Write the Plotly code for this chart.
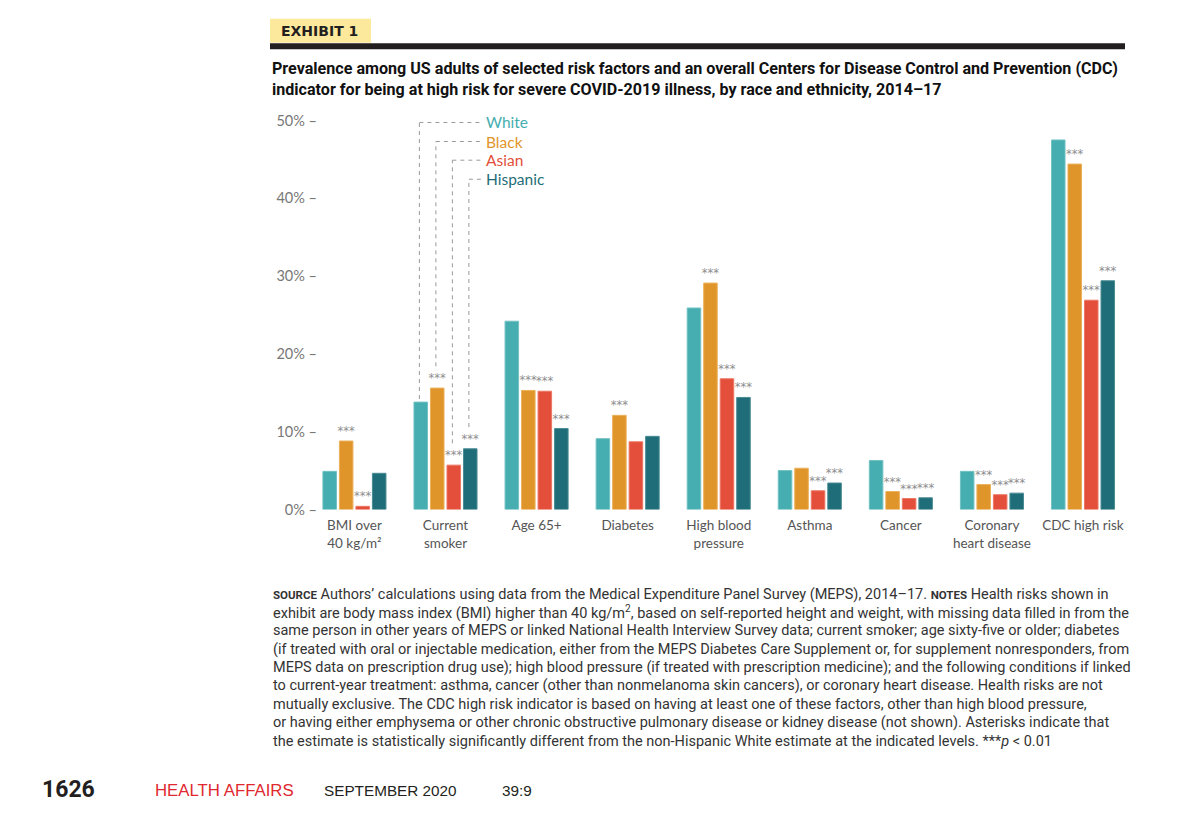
import plotly.graph_objects as go

categories = ["BMI over<br>40 kg/m²", "Current<br>smoker", "Age 65+", "Diabetes",
              "High blood<br>pressure", "Asthma", "Cancer", "Coronary<br>heart disease",
              "CDC high risk"]
series_names = ["White", "Black", "Asian", "Hispanic"]
white = [4.9, 13.8, 24.2, 9.1, 25.9, 5.0, 6.3, 4.9, 47.5]
black = [8.8, 15.6, 15.3, 12.1, 29.1, 5.3, 2.3, 3.2, 44.4]
asian = [0.4, 5.7, 15.2, 8.7, 16.8, 2.4, 1.4, 1.9, 26.9]
hispanic = [4.65, 7.8, 10.4, 9.4, 14.4, 3.4, 1.5, 2.1, 29.4]
white_sig = [0, 0, 0, 0, 0, 0, 0, 0, 0]
black_sig = [1, 1, 1, 1, 1, 0, 1, 1, 1]
asian_sig = [1, 1, 1, 0, 1, 1, 1, 1, 1]
hispanic_sig = [0, 1, 1, 0, 1, 1, 1, 1, 1]
y_ticks = [0, 10, 20, 30, 40, 50]

colors = ["#46adb0", "#e0952a", "#e34f3a", "#1f6d78"]
edge_colors = ["#72c1c3", "#ebb05a", "#ec7663", "#4a8b94"]
values = [white, black, asian, hispanic]
sigs = [white_sig, black_sig, asian_sig, hispanic_sig]

W, H = 1200, 823
# map reference-pixel positions to paper fractions (page offset / scale of the viewer)
OX, OY, SY = 8.0, 15.2, 0.982


def PX(x):
    return (x - OX) / W


def PY(y):
    return 1 - ((y - OY) / SY) / H


x_range = [-0.40, 8.494]

TICK_FONT = "Lato"
TEXT_FONT = "Roboto"

fig = go.Figure()
xs = list(range(len(categories)))
for name, vals, sig, c, ec in zip(series_names, values, sigs, colors, edge_colors):
    has_sig = any(sig)
    fig.add_trace(go.Bar(
        x=xs, y=vals, name=name,
        marker=dict(color=c, line=dict(color=ec, width=1)),
        text=["***" if s else "" for s in sig] if has_sig else None,
        textposition="outside" if has_sig else "none", textangle=0, constraintext="none",
        textfont=dict(size=11.5, color="#8e8e8e", family="DejaVu Sans"),
        cliponaxis=False, showlegend=False, hoverinfo="skip",
    ))

bargap = 0.275
bargroupgap = 0.18

fig.update_layout(
    width=W, height=H,
    margin=dict(l=0, r=0, t=0, b=0),
    paper_bgcolor="white", plot_bgcolor="white",
    barmode="group", bargap=bargap, bargroupgap=bargroupgap,
    xaxis=dict(
        domain=[PX(318), PX(1128)], range=x_range,
        tickvals=xs, ticktext=categories, showgrid=False, zeroline=False,
        showline=False, ticks="", ticklabelstandoff=6,
        tickfont=dict(family=TICK_FONT, size=13.5, color="#555555"),
    ),
    yaxis=dict(
        domain=[PY(509), PY(119)], range=[0, 50],
        tickvals=y_ticks, ticktext=[f"{v}% –" for v in y_ticks],
        showgrid=False, zeroline=False, showline=False, ticks="",
        ticklabelstandoff=0,
        tickfont=dict(family=TICK_FONT, size=14.5, color="#777777"),
    ),
)

# legend with dashed leader lines from "Current smoker" bars
slot = (1 - bargap) / 4
offsets = [-(1 - bargap) / 2 + (i + 0.5) * slot for i in range(4)]
label_levels = [49.75, 47.3, 44.9, 42.45]
smoker_idx = 1
label_x = 1.434
for i, (name, vals, sig, c) in enumerate(zip(series_names, values, sigs, colors)):
    xv = smoker_idx + offsets[i] - 0.015
    bottom = vals[smoker_idx] + (2.8 if sig[smoker_idx] else 0.4)
    top = label_levels[i]
    fig.add_shape(type="line", xref="x", yref="y", x0=xv, x1=xv, y0=bottom, y1=top,
                  line=dict(color="#9a9a9a", width=1, dash="4px,4px"))
    fig.add_shape(type="line", xref="x", yref="y", x0=xv, x1=label_x - 0.045, y0=top, y1=top,
                  line=dict(color="#9a9a9a", width=1, dash="4px,4px"))
    fig.add_annotation(xref="x", yref="y", x=label_x, y=top, text=name, showarrow=False,
                       xanchor="left", yanchor="middle", borderpad=0,
                       font=dict(family=TICK_FONT, size=15.5, color=c))

# Header: exhibit label and rule
fig.add_shape(type="rect", xref="paper", yref="paper", x0=PX(270), x1=PX(371),
              y0=PY(41), y1=PY(17), fillcolor="#fde99c", line=dict(width=0), layer="below")
fig.add_annotation(xref="paper", yref="paper", x=PX(279), y=PY(29.5), text="<b>EXHIBIT 1</b>",
                   showarrow=False, xanchor="left", yanchor="middle",
                   font=dict(family="DejaVu Sans", size=14, color="#231f20"))
fig.add_shape(type="rect", xref="paper", yref="paper", x0=PX(270), x1=PX(1125),
              y0=PY(47.5), y1=PY(41.5), fillcolor="#231f20", line=dict(width=0))

title_lines = [
    "Prevalence among US adults of selected risk factors and an overall Centers for Disease Control and Prevention (CDC)",
    "indicator for being at high risk for severe COVID-2019 illness, by race and ethnicity, 2014–17",
]
for k, line in enumerate(title_lines):
    fig.add_annotation(xref="paper", yref="paper", x=PX(270), y=PY(67 + 21 * k),
                       text=f"<b>{line}</b>", showarrow=False, xanchor="left", yanchor="middle",
                       font=dict(family=TEXT_FONT, size=16.1, color="#111111"))

source_lines = [
    "<b><span style='font-size:11.5px'>SOURCE</span></b> Authors’ calculations using data from the Medical Expenditure Panel Survey (MEPS), 2014–17. <b><span style='font-size:11.5px'>NOTES</span></b> Health risks shown in",
    "exhibit are body mass index (BMI) higher than 40 kg/m<sup>2</sup>, based on self-reported height and weight, with missing data filled in from the",
    "same person in other years of MEPS or linked National Health Interview Survey data; current smoker; age sixty-five or older; diabetes",
    "(if treated with oral or injectable medication, either from the MEPS Diabetes Care Supplement or, for supplement nonresponders, from",
    "MEPS data on prescription drug use); high blood pressure (if treated with prescription medicine); and the following conditions if linked",
    "to current-year treatment: asthma, cancer (other than nonmelanoma skin cancers), or coronary heart disease. Health risks are not",
    "mutually exclusive. The CDC high risk indicator is based on having at least one of these factors, other than high blood pressure,",
    "or having either emphysema or other chronic obstructive pulmonary disease or kidney disease (not shown). Asterisks indicate that",
    "the estimate is statistically significantly different from the non-Hispanic White estimate at the indicated levels. ***<i>p</i> &lt; 0.01",
]
for k, line in enumerate(source_lines):
    fig.add_annotation(xref="paper", yref="paper", x=PX(271), y=PY(594 + 18.4 * k),
                       text=line, showarrow=False, xanchor="left", yanchor="middle",
                       font=dict(family=TEXT_FONT, size=14.5, color="#333333"))

# Footer
fig.add_annotation(xref="paper", yref="paper", x=PX(40), y=PY(790), text="<b>1626</b>",
                   showarrow=False, xanchor="left", yanchor="middle",
                   font=dict(family=TEXT_FONT, size=23, color="#231f20"))
fig.add_annotation(xref="paper", yref="paper", x=PX(153), y=PY(791), text="HEALTH AFFAIRS",
                   showarrow=False, xanchor="left", yanchor="middle",
                   font=dict(family="Liberation Sans", size=16.8, color="#e0282f"))
fig.add_annotation(xref="paper", yref="paper", x=PX(322), y=PY(791), text="SEPTEMBER 2020",
                   showarrow=False, xanchor="left", yanchor="middle",
                   font=dict(family="Liberation Sans", size=15.3, color="#231f20"))
fig.add_annotation(xref="paper", yref="paper", x=PX(500), y=PY(791), text="39:9",
                   showarrow=False, xanchor="left", yanchor="middle",
                   font=dict(family="Liberation Sans", size=15.3, color="#231f20"))

fig.write_html("out.html")
